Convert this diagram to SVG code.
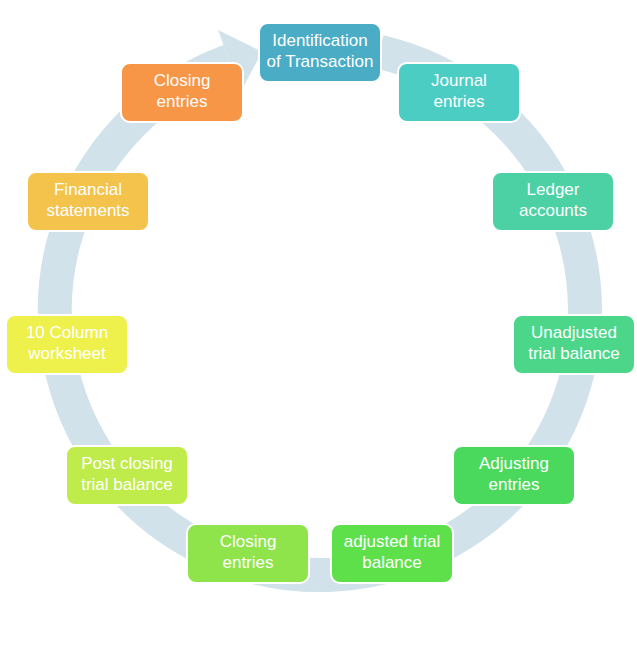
<svg xmlns="http://www.w3.org/2000/svg" width="637" height="653" viewBox="0 0 637 653">
<style>
.box{stroke:#ffffff;stroke-width:2}
.t{font-family:"Liberation Sans",Arial,sans-serif;font-size:17px;fill:#ffffff;text-anchor:middle}
.ring{fill:none;stroke:#d1e2ea;stroke-width:34;stroke-linecap:butt}
</style>
<rect width="637" height="653" fill="#ffffff"/>
<g id="connectors">
<path class="ring" d="M 379.6 51.9 A 265 265 0 1 1 229.4 61.0"/>
<polygon points="218.1,30 262,51.8 240.7,92" fill="#d1e2ea"/>
</g>
<g id="n1"><rect class="box" x="259" y="23" width="122" height="59" rx="9" fill="#4aacc5"/><text class="t" x="320" y="46">Identification</text><text class="t" x="320" y="67">of Transaction</text></g>
<g id="n2"><rect class="box" x="398" y="63" width="122" height="59" rx="9" fill="#4ccdc3"/><text class="t" x="459" y="86">Journal</text><text class="t" x="459" y="107">entries</text></g>
<g id="n3"><rect class="box" x="492" y="172" width="122" height="59" rx="9" fill="#4bd1a4"/><text class="t" x="553" y="195">Ledger</text><text class="t" x="553" y="216">accounts</text></g>
<g id="n4"><rect class="box" x="513" y="315" width="122" height="59" rx="9" fill="#4bd689"/><text class="t" x="574" y="338">Unadjusted</text><text class="t" x="574" y="359">trial balance</text></g>
<g id="n5"><rect class="box" x="453" y="446" width="122" height="59" rx="9" fill="#4bd95d"/><text class="t" x="514" y="469">Adjusting</text><text class="t" x="514" y="490">entries</text></g>
<g id="n6"><rect class="box" x="331" y="524" width="122" height="59" rx="9" fill="#5ee04b"/><text class="t" x="392" y="547">adjusted trial</text><text class="t" x="392" y="568">balance</text></g>
<g id="n7"><rect class="box" x="187" y="524" width="122" height="59" rx="9" fill="#8fe44b"/><text class="t" x="248" y="547">Closing</text><text class="t" x="248" y="568">entries</text></g>
<g id="n8"><rect class="box" x="66" y="446" width="122" height="59" rx="9" fill="#bfeb4b"/><text class="t" x="127" y="469">Post closing</text><text class="t" x="127" y="490">trial balance</text></g>
<g id="n9"><rect class="box" x="6" y="315" width="122" height="59" rx="9" fill="#eef04b"/><text class="t" x="67" y="338">10 Column</text><text class="t" x="67" y="359">worksheet</text></g>
<g id="n10"><rect class="box" x="27" y="172" width="122" height="59" rx="9" fill="#f3c34b"/><text class="t" x="88" y="195">Financial</text><text class="t" x="88" y="216">statements</text></g>
<g id="n11"><rect class="box" x="121" y="63" width="122" height="59" rx="9" fill="#f79646"/><text class="t" x="182" y="86">Closing</text><text class="t" x="182" y="107">entries</text></g>
</svg>
